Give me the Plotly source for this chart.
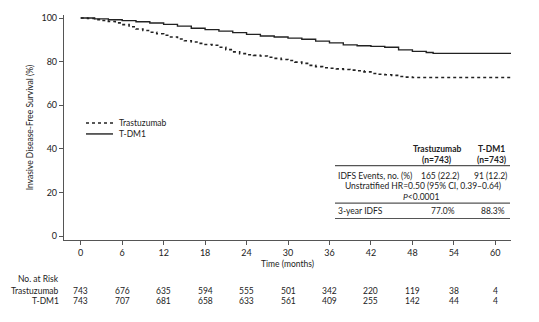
import plotly.graph_objects as go

# ---- data ----
tras_t = [0, 1, 2, 3, 4, 5, 6, 7, 8, 9, 10, 11, 12, 13, 14, 15, 16, 17, 18, 19, 20, 21, 22, 23, 24,
          25, 26, 27, 28, 29, 30, 31, 32, 33, 34, 35, 36, 37, 38, 39, 40, 41, 42, 43, 44, 45, 46, 47, 48, 62.3]
tras_s = [100, 99.8, 99.3, 98.9, 98.4, 97.8, 97.0, 96.0, 95.0, 94.3, 93.5, 92.8, 92.1, 91.3, 90.4, 89.6,
          89.0, 88.4, 87.9, 87.5, 86.6, 85.5, 84.5, 83.7, 83.2, 82.9, 82.6, 82.0, 81.5, 81.0, 80.5, 79.8,
          79.2, 78.3, 77.7, 77.2, 77.0, 76.7, 76.4, 76.1, 75.8, 75.3, 74.6, 74.2, 74.0, 73.7, 73.2, 72.9, 72.7, 72.7]
tdm1_t = [0, 2, 4, 6, 8, 10, 12, 14, 16, 18, 20, 22, 24, 26, 28, 30, 32, 34, 36, 38, 40, 42, 44, 46, 48, 50, 51, 62.3]
tdm1_s = [100, 99.6, 99.2, 98.8, 98.3, 97.7, 97.1, 96.3, 95.3, 94.7, 94.0, 93.3, 92.5, 91.8, 91.3, 90.8,
          90.3, 89.4, 88.6, 87.7, 87.3, 87.0, 86.6, 85.4, 84.7, 84.2, 83.8, 83.8]

risk_times = [0, 6, 12, 18, 24, 30, 36, 42, 48, 54, 60]
risk_tras = [743, 676, 635, 594, 555, 501, 342, 220, 119, 38, 4]
risk_tdm1 = [743, 707, 681, 658, 633, 561, 409, 255, 142, 44, 4]

x_ticks = [0, 6, 12, 18, 24, 30, 36, 42, 48, 54, 60]
y_ticks = [0, 20, 40, 60, 80, 100]

FONT = "Lato"
C = "#222222"
FS = 8.5

fig = go.Figure()
fig.add_trace(go.Scatter(x=tras_t, y=tras_s, mode="lines", line_shape="hv", name="Trastuzumab",
                         line=dict(color=C, width=1.6, dash="dot")))
fig.add_trace(go.Scatter(x=tdm1_t, y=tdm1_s, mode="lines", line_shape="hv", name="T-DM1",
                         line=dict(color=C, width=1.4)))

L, R, T, B = 64, 28, 13, 82
W, H = 539, 322
ph = H - T - B

def py(p):  # pixel y -> paper
    return (H - B - p) / ph

def px(p):
    return (p - L) / (W - L - R)

fig.update_layout(
    width=W, height=H, margin=dict(l=L, r=R, t=T, b=B),
    plot_bgcolor="white", paper_bgcolor="white",
    font=dict(family=FONT, size=FS, color=C),
    showlegend=False,
    xaxis=dict(range=[-2.42, 62.27], tickvals=x_ticks, ticks="outside", ticklen=4, tickcolor="#555",
               showline=True, linecolor="#555", linewidth=1.2, showgrid=False, zeroline=False,
               tickfont=dict(size=9),
               title=dict(text="Time (months)", font=dict(size=FS), standoff=4)),
    yaxis=dict(range=[-1.8, 101.4], tickvals=y_ticks, ticks="outside", ticklen=4, tickcolor="#555",
               showline=True, linecolor="#555", linewidth=1.2, showgrid=False, zeroline=False,
               tickfont=dict(size=9),
               title=dict(text="Invasive Disease-Free Survival (%)", font=dict(size=8.5), standoff=6)),
)

ann = []
# legend (drawn manually)
ann.append(dict(text="Trastuzumab", x=px(117), y=py(122), xanchor="left"))
ann.append(dict(text="T-DM1", x=px(117), y=py(133), xanchor="left"))
# risk table
ann.append(dict(text="No. at Risk", x=px(61), y=py(279), xanchor="right"))
ann.append(dict(text="Trastuzumab", x=px(61), y=py(291), xanchor="right"))
ann.append(dict(text="T-DM1", x=px(61), y=py(302), xanchor="right"))
for t, a, b in zip(risk_times, risk_tras, risk_tdm1):
    ann.append(dict(text=str(a), x=t, xref="x", y=py(291), xanchor="center"))
    ann.append(dict(text=str(b), x=t, xref="x", y=py(302), xanchor="center"))

# summary table
ann.append(dict(text="<b>Trastuzumab</b>", x=px(437), y=py(148), xanchor="center"))
ann.append(dict(text="<b>(n=743)</b>", x=px(437), y=py(159), xanchor="center"))
ann.append(dict(text="<b>T-DM1</b>", x=px(491.5), y=py(148), xanchor="center"))
ann.append(dict(text="<b>(n=743)</b>", x=px(491.5), y=py(159), xanchor="center"))
ann.append(dict(text="IDFS Events, no. (%)", x=px(336), y=py(175), xanchor="left"))
ann.append(dict(text="165 (22.2)", x=px(440), y=py(175), xanchor="center"))
ann.append(dict(text="91 (12.2)", x=px(490.5), y=py(175), xanchor="center"))
ann.append(dict(text="Unstratified HR=0.50 (95% CI, 0.39\u20130.64)", x=px(423), y=py(186), xanchor="center"))
ann.append(dict(text="<i>P</i><0.0001", x=px(420.5), y=py(197), xanchor="center"))
ann.append(dict(text="3-year IDFS", x=px(336), y=py(211), xanchor="left"))
ann.append(dict(text="77.0%", x=px(442.5), y=py(211), xanchor="center"))
ann.append(dict(text="88.3%", x=px(493), y=py(211), xanchor="center"))

for a in ann:
    a.setdefault("xref", "paper")
    a["yref"] = "paper"
    a["yanchor"] = "middle"
    a["showarrow"] = False
    a["font"] = dict(size=FS, color=C, family=FONT)
fig.update_layout(annotations=ann)

# legend sample lines
fig.add_shape(type="line", xref="paper", yref="paper", x0=px(86), x1=px(113), y0=py(122), y1=py(122),
              line=dict(color=C, width=1.6, dash="dot"))
fig.add_shape(type="line", xref="paper", yref="paper", x0=px(86), x1=px(113), y0=py(133), y1=py(133),
              line=dict(color=C, width=1.4))

for yy in [165, 202.7, 218.3]:
    fig.add_shape(type="line", xref="paper", yref="paper", x0=px(335), x1=px(510), y0=py(yy), y1=py(yy),
                  line=dict(color="#555", width=1.2))

fig.write_html("out.html")
